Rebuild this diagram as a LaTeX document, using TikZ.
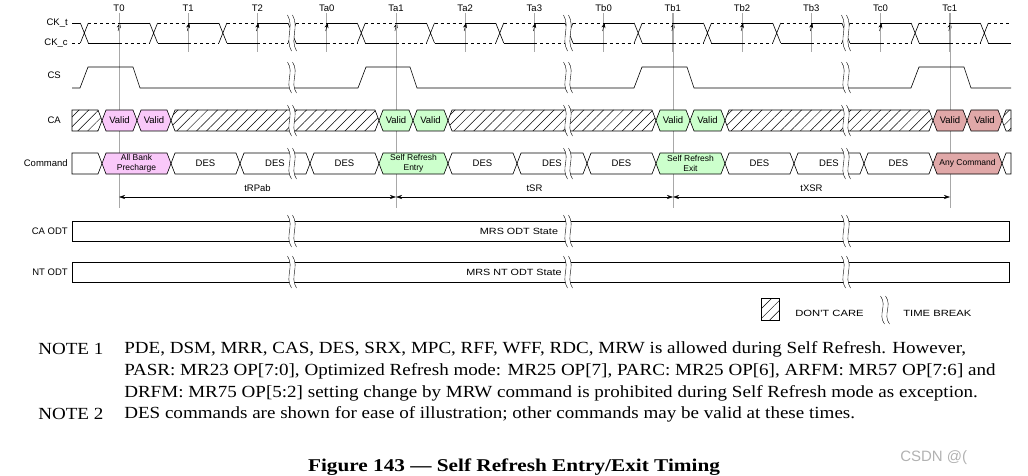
\documentclass[tikz,border=0pt]{standalone}
\usepackage{fontspec}
\setmainfont{Liberation Serif}
\newfontfamily\ar{Liberation Sans}
\usetikzlibrary{patterns.meta,arrows.meta}
\definecolor{pk}{HTML}{F9C8F9}
\definecolor{gn}{HTML}{CCFFCC}
\definecolor{rd}{HTML}{E0A8A8}
\definecolor{gl}{HTML}{A8A8A8}
\newcommand\widen[1]{\scalebox{1.12}[1]{#1}}
\newcommand\cell[6]{% x1 x2 yt yb fill text
  \draw[#5] (#1,{(#3+#4)/2}) -- ({#1+4},#3) -- ({#2-4},#3) -- (#2,{(#3+#4)/2}) -- ({#2-4},#4) -- ({#1+4},#4) -- cycle;
  \node[lbl,align=center] at ({(#1+#2)/2},{(#3+#4)/2}) {#6};}
\newcommand\cellL[5]{% flat left
  \draw[#5] (#1,#3) -- ({#2-4},#3) -- (#2,{(#3+#4)/2}) -- ({#2-4},#4) -- (#1,#4) -- cycle;}
\newcommand\cellR[5]{% flat right
  \draw[#5] (#1,{(#3+#4)/2}) -- ({#1+4},#3) -- (#2,#3) -- (#2,#4) -- ({#1+4},#4) -- cycle;}
\newcommand\brk[3]{% x y1 y2
  \fill[white] ({#1-4.5},#2) .. controls ({#1+2.5},{#2+0.35*(#3-#2)}) and ({#1-7.5},{#3-0.35*(#3-#2)}) .. ({#1-0.5},#3)
     -- ({#1+4.5},#3) .. controls ({#1-2.5},{#3-0.35*(#3-#2)}) and ({#1+7.5},{#2+0.35*(#3-#2)}) .. ({#1+0.5},#2) -- cycle;
  \draw[thin] ({#1-4.5},#2) .. controls ({#1+2.5},{#2+0.35*(#3-#2)}) and ({#1-7.5},{#3-0.35*(#3-#2)}) .. ({#1-0.5},#3);
  \draw[thin] ({#1+0.5},#2) .. controls ({#1+7.5},{#2+0.35*(#3-#2)}) and ({#1-2.5},{#3-0.35*(#3-#2)}) .. ({#1+4.5},#3);}
\begin{document}
\begin{tikzpicture}[x=1pt,y=-1pt,line width=0.6pt,
  lbl/.style={font=\ar\fontsize{9.5}{10}\selectfont,inner sep=0pt},
  sml/.style={font=\ar\fontsize{9}{9.5}\selectfont,inner sep=0pt},
  sig/.style={font=\ar\fontsize{9.5}{10}\selectfont,anchor=east,inner sep=0pt},
  hatch/.style={draw,pattern={Lines[angle=45,distance=7pt,line width=0.5pt]}},
  note/.style={font=\fontsize{17}{18}\selectfont,anchor=west,inner sep=0pt}]
\useasboundingbox (0,0) rectangle (1028,476);
% signal names
\node[sig] (nckt) at (68,23) {CK\_t};
\node[sig] (nckc) at (68,43) {CK\_c};
\node[sig] (ncs) at (61,75) {CS};
\node[sig] (nca) at (61,120) {CA};
\node[sig] (ncmd) at (68,163) {Command};
\node[sig] (ncao) at (68,231) {CA ODT};
\node[sig] (nnto) at (68,272) {NT ODT};
% tick lines and labels
\foreach \n [count=\i from 0] in {T0,T1,T2,Ta0,Ta1,Ta2,Ta3,Tb0,Tb1,Tb2,Tb3,Tc0,Tc1}{
  \pgfmathsetmacro\tk{119+69.23*\i}
  \node[lbl] (t\i) at (\tk,8) {\n};
  \draw[gl,line width=0.7pt] (\tk,13) -- (\tk,52);
  \draw[-{Stealth[length=5pt,width=4pt]},line width=0.5pt] ({\tk-1},31) -- ({\tk+1},23);
}
\foreach \tk in {119,396,673,950}{\draw[gl,line width=0.7pt] (\tk,13) -- (\tk,208);}
% clock
\draw (72,23) -- (80.4,23);
\draw[dashed] (72,43) -- (80.4,43);
\foreach \j in {-1,...,12}{
  \pgfmathsetmacro\c{153.6+69.23*\j}
  \pgfmathsetmacro\m{\c+34.6}
  \pgfmathsetmacro\e{\c+65.23}
  \draw ({\c-4},23) -- ({\c+4},43) ({\c-4},43) -- ({\c+4},23);
  \ifnum\j<12
    \draw[dashed] ({\c+4},23) -- (\m,23);
    \draw (\m,23) -- (\e,23);
    \draw ({\c+4},43) -- (\m,43);
    \draw[dashed] (\m,43) -- (\e,43);
  \else
    \draw[dashed] ({\c+4},23) -- (1011,23);
    \draw ({\c+4},43) -- (1011,43);
  \fi
}
% CS
\draw (72,88) -- (80,88) -- (88,67) -- (133,67) -- (140,88) -- (358,88) -- (366,67) -- (410,67) -- (417,88)
  -- (634,88) -- (642,67) -- (687,67) -- (694,88) -- (911,88) -- (919,67) -- (964,67) -- (971,88) -- (1011,88);
% CA
\def\ya{110}\def\yb{131}
\cellL{72}{102}{\ya}{\yb}{hatch}
\cell{102}{137}{\ya}{\yb}{draw,fill=pk}{Valid}
\cell{137}{171}{\ya}{\yb}{draw,fill=pk}{Valid}
\cell{171}{379}{\ya}{\yb}{hatch}{}
\cell{379}{413}{\ya}{\yb}{draw,fill=gn}{Valid}
\cell{413}{448}{\ya}{\yb}{draw,fill=gn}{Valid}
\cell{448}{656}{\ya}{\yb}{hatch}{}
\cell{656}{690}{\ya}{\yb}{draw,fill=gn}{Valid}
\cell{690}{725}{\ya}{\yb}{draw,fill=gn}{Valid}
\cell{725}{933}{\ya}{\yb}{hatch}{}
\cell{933}{967}{\ya}{\yb}{draw,fill=rd}{Valid}
\cell{967}{1002}{\ya}{\yb}{draw,fill=rd}{Valid}
\cellR{1002}{1011}{\ya}{\yb}{hatch}
% Command
\def\ya{153}\def\yb{174}
\cellL{72}{102}{\ya}{\yb}{draw,fill=white}
\cell{102}{171}{\ya}{\yb}{draw,fill=pk}{\fontsize{8.5}{8.5}\selectfont All Bank\\[-0.5pt]\fontsize{8.5}{8.5}\selectfont Precharge}
\cell{171}{240}{\ya}{\yb}{draw}{DES}
\cell{240}{310}{\ya}{\yb}{draw}{DES}
\cell{310}{379}{\ya}{\yb}{draw}{DES}
\cell{379}{448}{\ya}{\yb}{draw,fill=gn}{\fontsize{8.5}{8.5}\selectfont Self Refresh\\[-0.5pt]\fontsize{8.5}{8.5}\selectfont Entry}
\cell{448}{517}{\ya}{\yb}{draw}{DES}
\cell{517}{587}{\ya}{\yb}{draw}{DES}
\cell{587}{656}{\ya}{\yb}{draw}{DES}
\cell{656}{725}{\ya}{\yb}{draw,fill=gn}{\fontsize{8.5}{8.5}\selectfont Self Refresh\\[-0.5pt]\fontsize{8.5}{8.5}\selectfont Exit}
\cell{725}{794}{\ya}{\yb}{draw}{DES}
\cell{794}{864}{\ya}{\yb}{draw}{DES}
\cell{864}{933}{\ya}{\yb}{draw}{DES}
\cell{933}{1002}{\ya}{\yb}{draw,fill=rd}{\fontsize{8.5}{8.5}\selectfont Any Command}
\cellR{1002}{1011}{\ya}{\yb}{draw}
% timing arrows
\coordinate (a0) at (119,197); \coordinate (a1) at (396,197);
\coordinate (a2) at (673,197); \coordinate (a3) at (950,197);
\draw[{Stealth[length=6pt,width=4pt]}-{Stealth[length=6pt,width=4pt]},line width=0.5pt] (a0) -- node[lbl,above=5pt] {tRPab} (a1);
\draw[{Stealth[length=6pt,width=4pt]}-{Stealth[length=6pt,width=4pt]},line width=0.5pt] (a1) -- node[lbl,above=5pt] {tSR} (a2);
\draw[{Stealth[length=6pt,width=4pt]}-{Stealth[length=6pt,width=4pt]},line width=0.5pt] (a2) -- node[lbl,above=5pt] {tXSR} (a3);
% ODT rows
\draw (72,221) rectangle (1009,241);
\node[sml] (cao) at (519,231.5) {\scalebox{1.2}[1]{MRS ODT State}};
\draw (72,262) rectangle (1009,282);
\node[sml] (nto) at (514,272.5) {\scalebox{1.2}[1]{MRS NT ODT State}};
% breaks
\foreach \xb in {292,568,846}{
  \brk{\xb}{15}{51}
  \brk{\xb}{62}{93}
  \brk{\xb}{105}{136}
  \brk{\xb}{148}{179}
  \brk{\xb}{215}{247}
  \brk{\xb}{256}{288}
}
% legend
\draw[hatch] (761,298) rectangle (779,320);
\node[sml,anchor=west] (dc) at (795,313) {\scalebox{1.25}[1]{DON'T CARE}};
\brk{885}{296}{324}
\node[sml,anchor=west] (tb) at (903,313) {\scalebox{1.25}[1]{TIME BREAK}};
% notes
\node[note] (n1) at (38,349) {\widen{NOTE 1}};
\node[note] at (124,349) {\widen{PDE, DSM, MRR, CAS, DES, SRX, MPC, RFF, WFF, RDC, MRW is allowed during Self Refresh. However,}};
\node[note] at (124,371) {\widen{PASR: MR23 OP[7:0], Optimized Refresh mode: MR25 OP[7], PARC: MR25 OP[6], ARFM: MR57 OP[7:6] and}};
\node[note] at (124,393) {\widen{DRFM: MR75 OP[5:2] setting change by MRW command is prohibited during Self Refresh mode as exception.}};
\node[note] (n2) at (38,414) {\widen{NOTE 2}};
\node[note] at (124,414) {\widen{DES commands are shown for ease of illustration; other commands may be valid at these times.}};
\node[font=\bfseries\fontsize{18}{19}\selectfont,inner sep=0pt] (cap) at (514,467) {\scalebox{1.18}[1]{Figure 143 — Self Refresh Entry/Exit Timing}};
\node[font=\ar\fontsize{15}{16}\selectfont,text=gray!60,anchor=west,inner sep=0pt] (wm) at (900,458) {CSDN @(};
\end{tikzpicture}
\end{document}
